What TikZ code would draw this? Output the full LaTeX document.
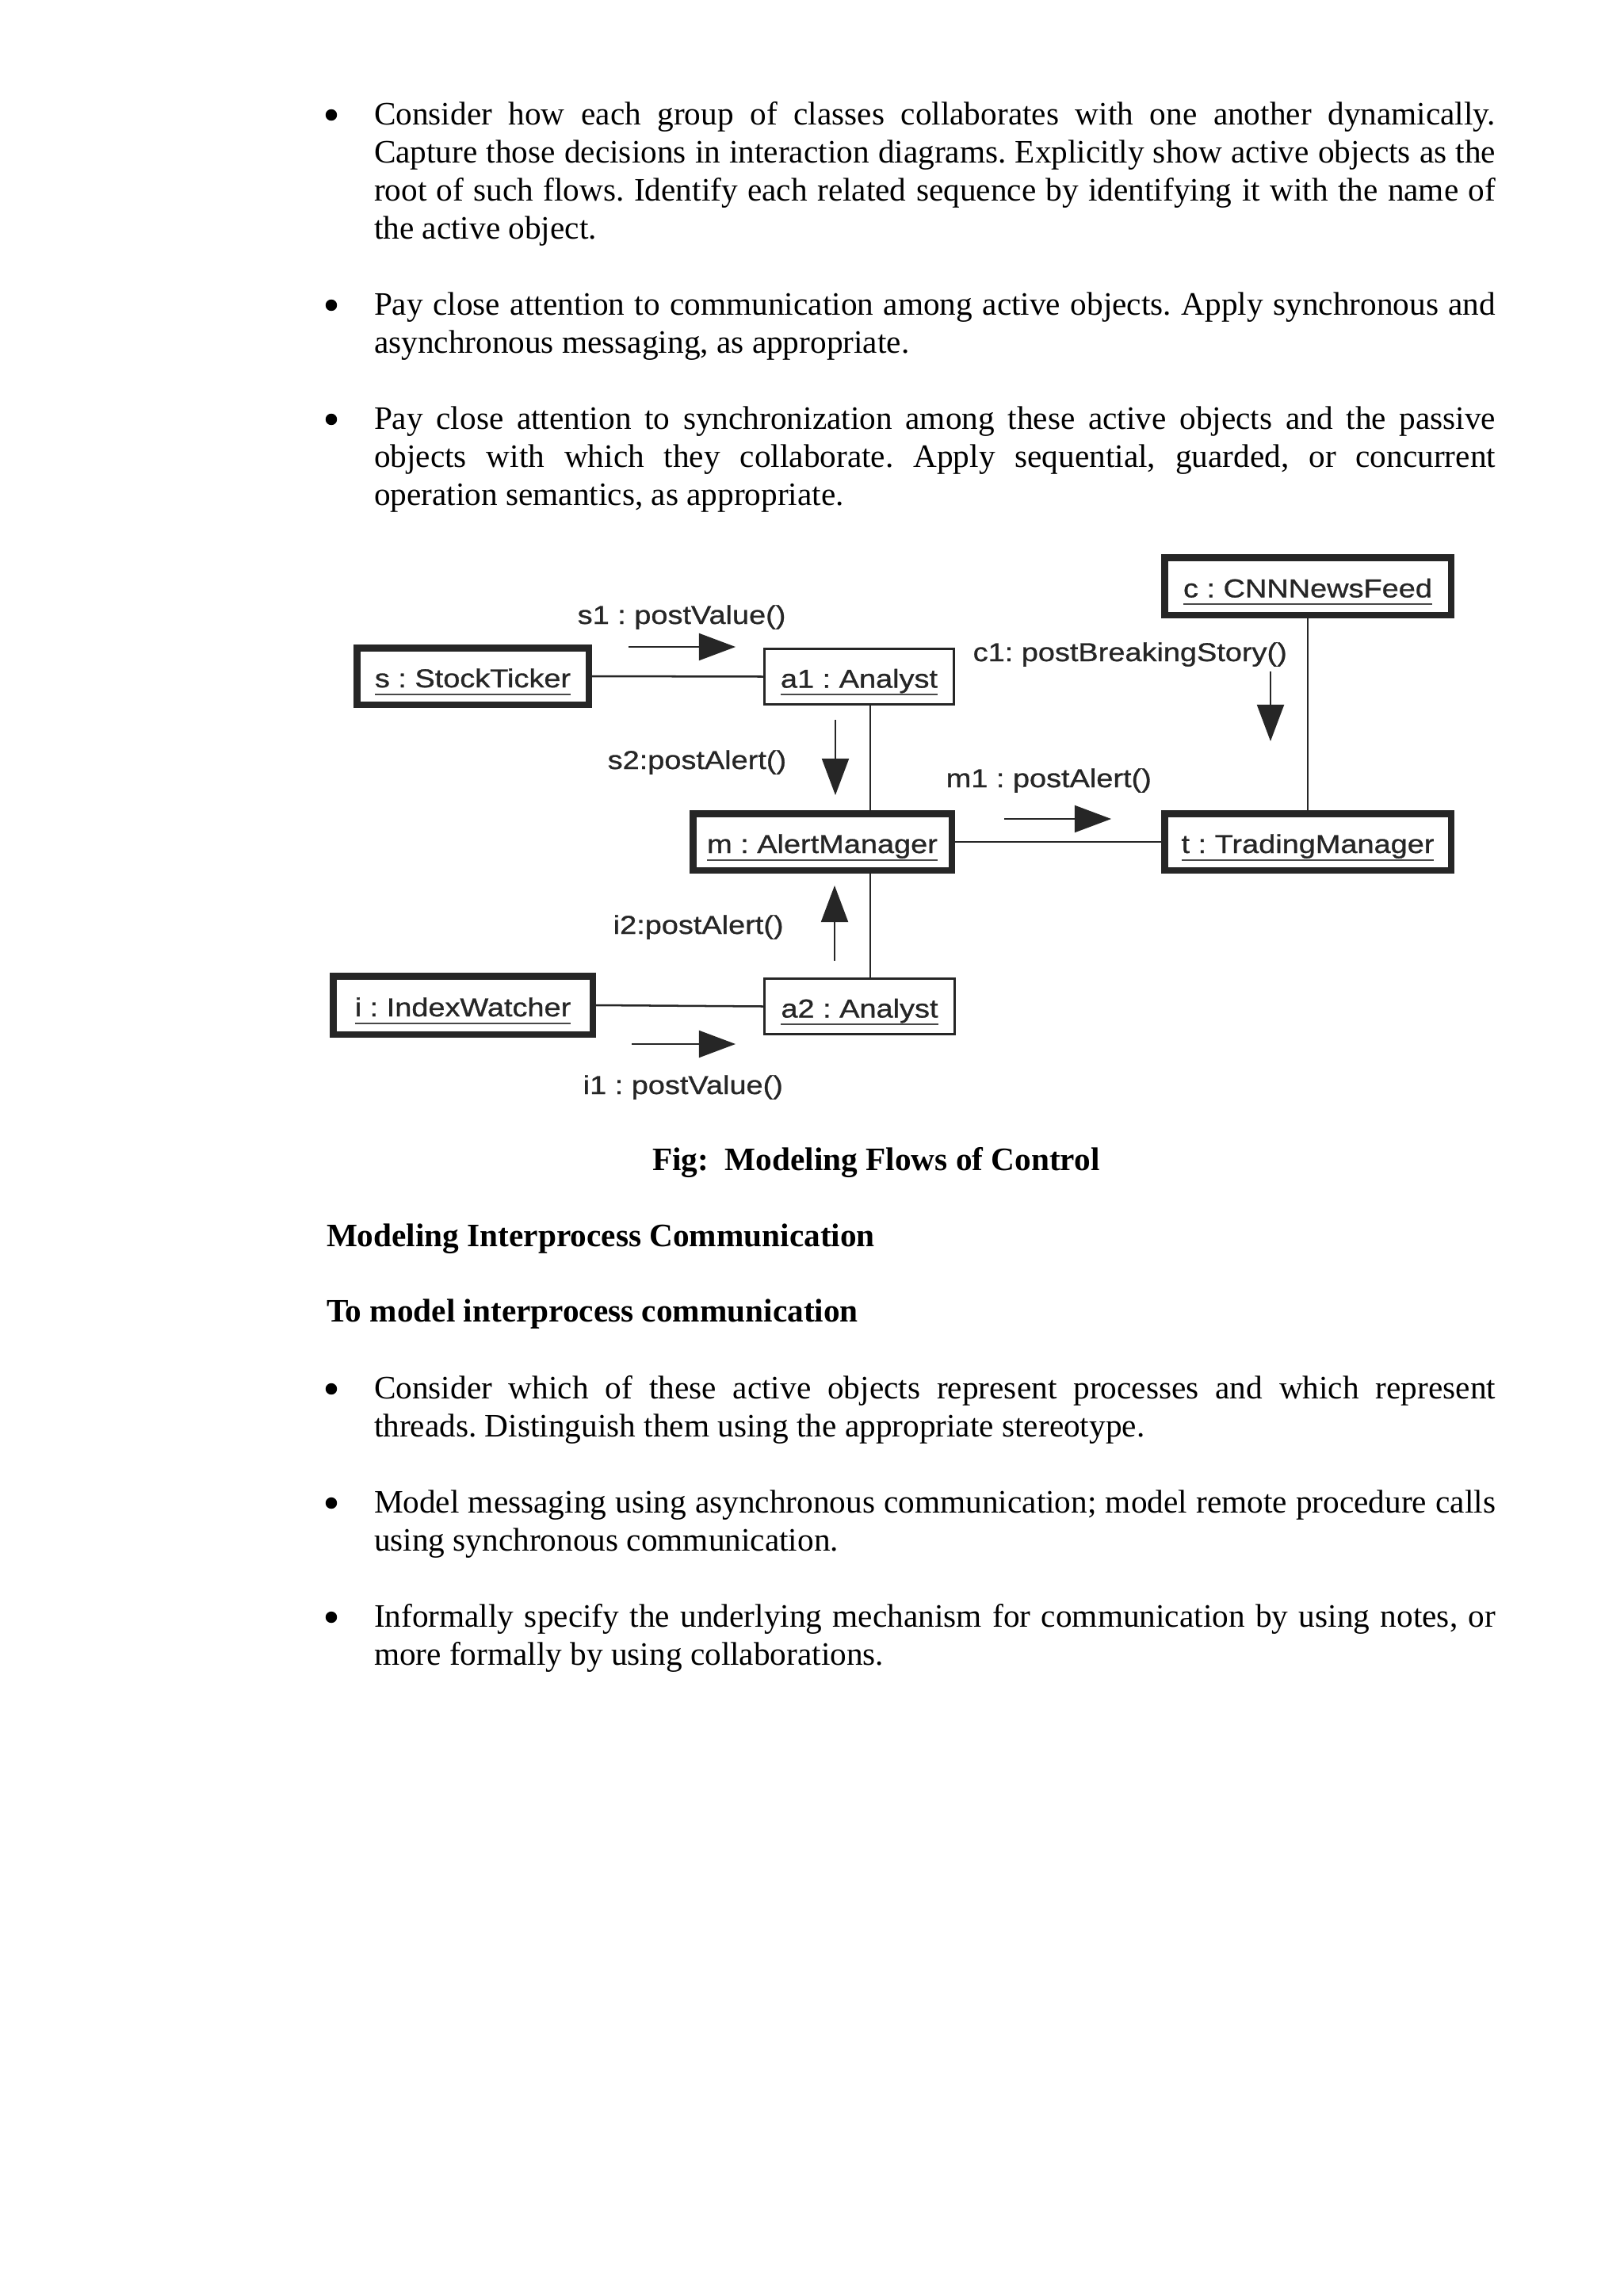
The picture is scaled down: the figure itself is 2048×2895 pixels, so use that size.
\documentclass[tikz,border=0pt]{standalone}
\usepackage{fontspec}
\setmainfont{Liberation Serif}
\newfontfamily\dfont[FakeStretch=1.16,FakeBold=0.9]{Liberation Sans}
\usetikzlibrary{arrows.meta}
\definecolor{ink}{HTML}{262626}
\definecolor{ulgray}{HTML}{484848}
\newlength\tw
\setlength\tw{411.3pt}
\newcommand\jl[1]{\makebox[\tw][s]{#1}}
\newcommand\uln[1]{\setbox0\hbox{#1}\makebox[0pt][l]{\color{ulgray}\rule[-2.9pt]{\wd0}{0.6pt}}\box0}
\begin{document}
\frenchspacing
\begin{tikzpicture}[x=0.29066pt,y=-0.29066pt,
  body/.style={anchor=base west,inner sep=0pt,outer sep=0pt,font=\fontsize{12}{13.8}\selectfont},
  headtext/.style={body,font=\fontsize{12}{13.8}\selectfont\bfseries},
  bul/.style={fill=black,draw=none,circle,inner sep=0pt,minimum size=4.2pt},
  msglbl/.style={anchor=base west,inner sep=0pt,text=ink,font=\dfont\fontsize{9.5}{11}\selectfont},
  objbase/.style={rectangle,draw=ink,inner sep=0pt,text=ink,font=\dfont\fontsize{9.5}{11}\selectfont,text height=8.72pt,text depth=0.58pt},
  activeobj/.style={objbase,line width=2.47pt},
  passiveobj/.style={objbase,line width=0.87pt},
  link/.style={draw=ink,line width=0.73pt},
  msg/.style={draw=ink,line width=0.58pt,-{Triangle[length=13.4pt,width=9.9pt]}}
]
\fill[white] (0,0) rectangle (2048,2895);
\useasboundingbox (0,0) rectangle (2048,2895);

% ---------- upper text ----------
\node[bul] (b1) at (418,145) {};
\node[body] (p1a) at (472,157) {\jl{Consider how each group of classes collaborates with one another dynamically.}};
\node[body] (p1b) at (472,205) {\jl{Capture those decisions in interaction diagrams. Explicitly show active objects as the}};
\node[body] (p1c) at (472,253) {\jl{root of such flows. Identify each related sequence by identifying it with the name of}};
\node[body] (p1d) at (472,301) {the active object.};

\node[bul] (b2) at (418,385) {};
\node[body] (p2a) at (472,397) {\jl{Pay close attention to communication among active objects. Apply synchronous and}};
\node[body] (p2b) at (472,445) {asynchronous messaging, as appropriate.};

\node[bul] (b3) at (418,529) {};
\node[body] (p3a) at (472,541) {\jl{Pay close attention to synchronization among these active objects and the passive}};
\node[body] (p3b) at (472,589) {\jl{objects with which they collaborate. Apply sequential, guarded, or concurrent}};
\node[body] (p3c) at (472,637) {operation semantics, as appropriate.};

% ---------- diagram ----------
\node[activeobj,minimum width=85.02pt,minimum height=20.78pt] (s) at (596.5,853) {\uln{s : StockTicker}};
\node[passiveobj,minimum width=69.47pt,minimum height=20.35pt] (a1) at (1084,853.5) {\uln{a1 : Analyst}};
\node[activeobj,minimum width=105.07pt,minimum height=21.07pt] (c) at (1650,739.5) {\uln{c : CNNNewsFeed}};
\node[activeobj,minimum width=94.90pt,minimum height=20.78pt] (m) at (1037.5,1062) {\uln{m : AlertManager}};
\node[activeobj,minimum width=105.07pt,minimum height=20.78pt] (t) at (1650,1062) {\uln{t : TradingManager}};
\node[activeobj,minimum width=95.19pt,minimum height=21.36pt] (i) at (584,1268) {\uln{i : IndexWatcher}};
\node[passiveobj,minimum width=69.76pt,minimum height=20.35pt] (a2) at (1084.5,1269.5) {\uln{a2 : Analyst}};

\coordinate (vx) at (1098,0);
\draw[link] (s.east) -- (a1.west);
\draw[link] (a1.south -| vx) -- (m.north -| vx);
\draw[link] (m.south -| vx) -- (a2.north -| vx);
\draw[link] (m.east) -- (t.west);
\draw[link] (c.south) -- (t.north);
\draw[link] (i.east) -- (a2.west);

\coordinate (s1a) at (793,816);   \coordinate (s1b) at (928,816);
\coordinate (s2a) at (1054,908);  \coordinate (s2b) at (1054,1003);
\coordinate (c1a) at (1603,847);  \coordinate (c1b) at (1603,935);
\coordinate (m1a) at (1267,1033); \coordinate (m1b) at (1402,1033);
\coordinate (i2a) at (1053,1212); \coordinate (i2b) at (1053,1117);
\coordinate (i1a) at (797,1317);  \coordinate (i1b) at (928,1317);
\draw[msg] (s1a) -- (s1b);
\draw[msg] (s2a) -- (s2b);
\draw[msg] (c1a) -- (c1b);
\draw[msg] (m1a) -- (m1b);
\draw[msg] (i2a) -- (i2b);
\draw[msg] (i1a) -- (i1b);

\node[msglbl] (ls1) at (728,787) {s1 : postValue()};
\node[msglbl] (ls2) at (766,970) {s2:postAlert()};
\node[msglbl] (lc1) at (1227,834) {c1: postBreakingStory()};
\node[msglbl] (lm1) at (1193,993) {m1 : postAlert()};
\node[msglbl] (li2) at (773,1178) {i2:postAlert()};
\node[msglbl] (li1) at (735,1380) {i1 : postValue()};

% ---------- lower text ----------
\node[headtext] (fig) at (823,1476) {Fig:\ \ Modeling Flows of Control};
\node[headtext] (h1) at (412,1572) {Modeling Interprocess Communication};
\node[headtext] (h2) at (412,1667) {To model interprocess communication};

\node[bul] (b4) at (418,1752) {};
\node[body] (p4a) at (472,1764) {\jl{Consider which of these active objects represent processes and which represent}};
\node[body] (p4b) at (472,1812) {threads. Distinguish them using the appropriate stereotype.};

\node[bul] (b5) at (418,1896) {};
\node[body] (p5a) at (472,1908) {\jl{Model messaging using asynchronous communication; model remote procedure calls}};
\node[body] (p5b) at (472,1956) {using synchronous communication.};

\node[bul] (b6) at (418,2040) {};
\node[body] (p6a) at (472,2052) {\jl{Informally specify the underlying mechanism for communication by using notes, or}};
\node[body] (p6b) at (472,2100) {more formally by using collaborations.};
\end{tikzpicture}
\end{document}
